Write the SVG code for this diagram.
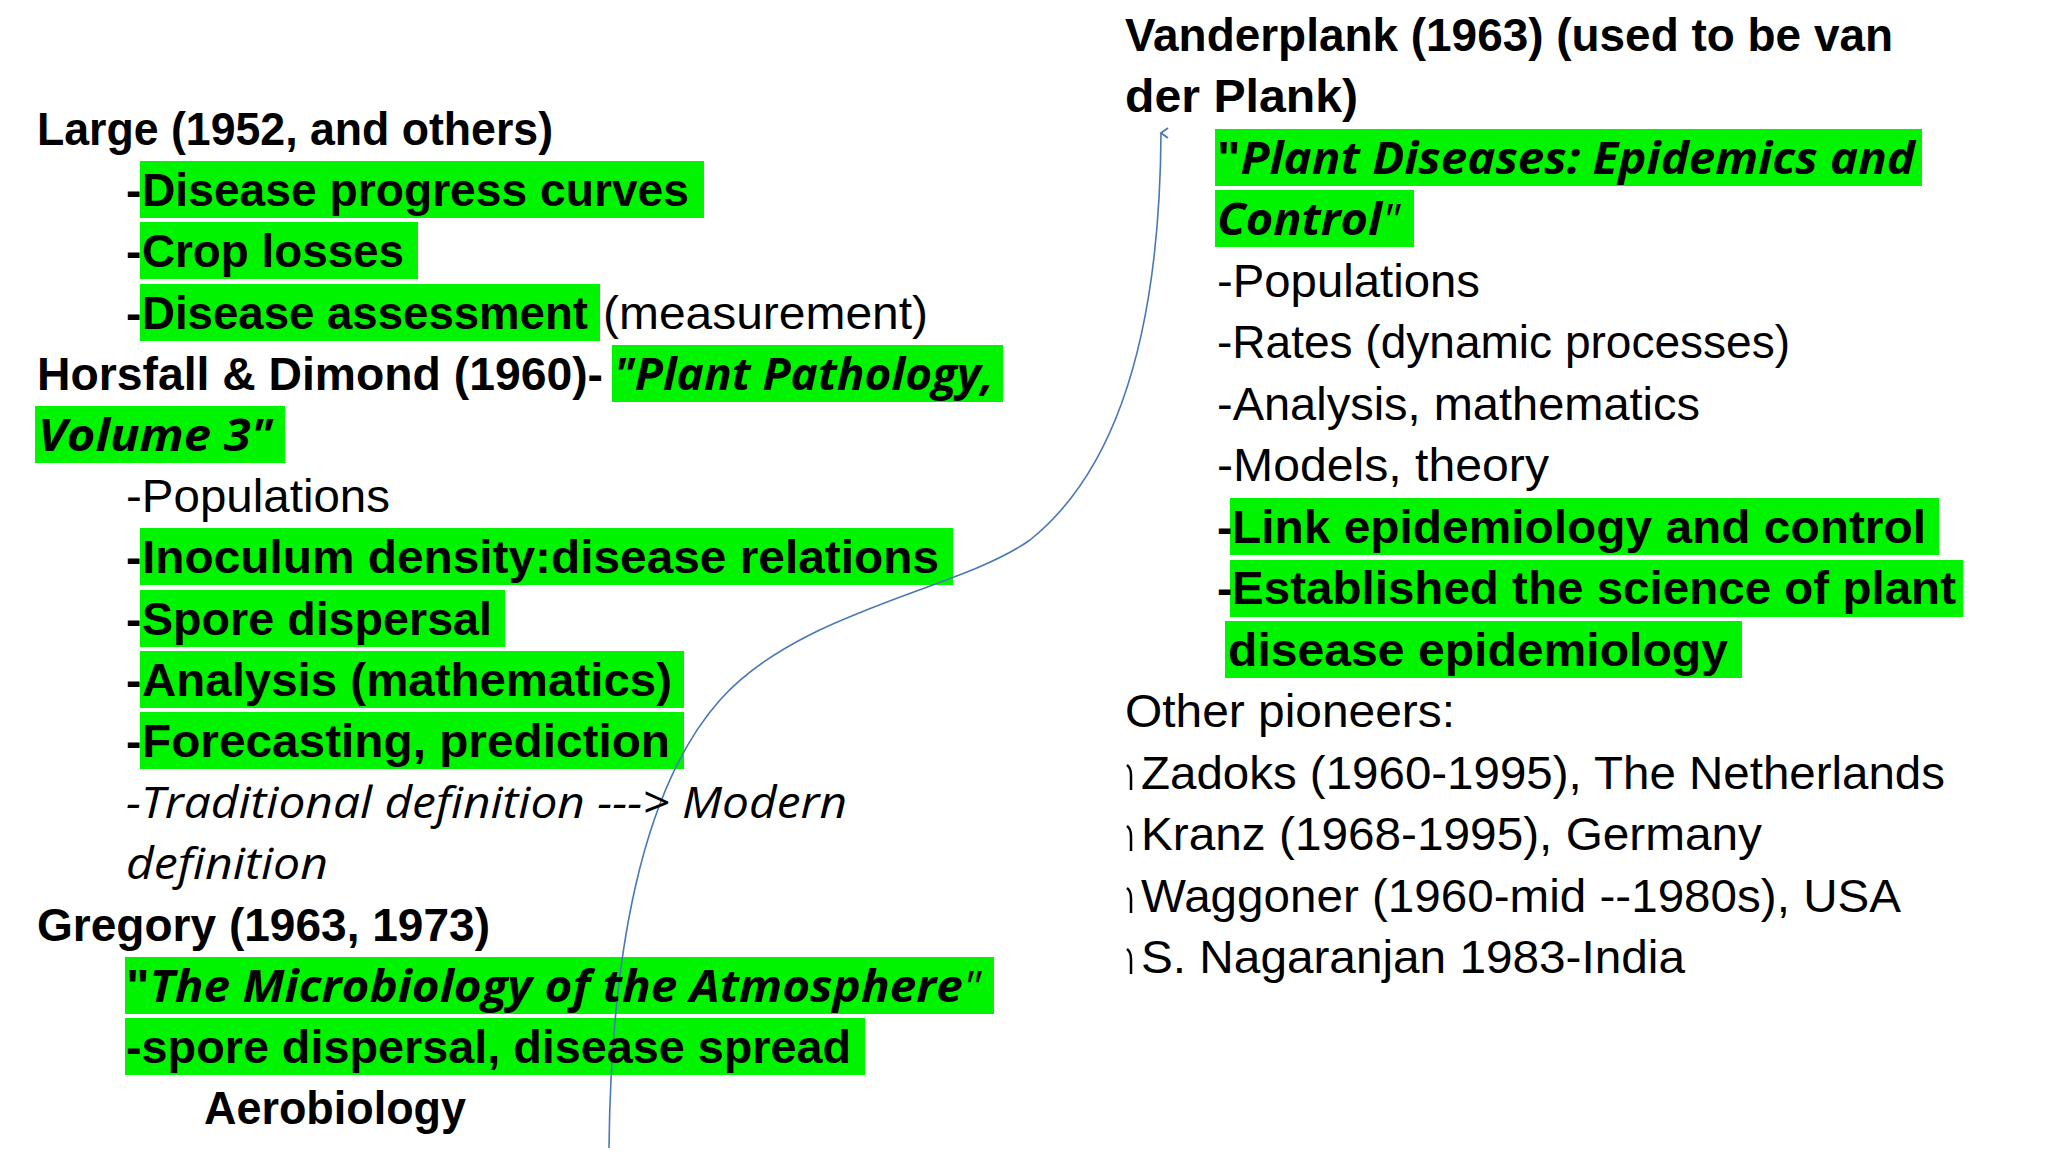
<svg xmlns="http://www.w3.org/2000/svg" width="2048" height="1152" viewBox="0 0 2048 1152">
<style>
text{font-family:"Liberation Sans",Arial,sans-serif;font-size:46px;fill:#000}
.b{font-weight:bold}
.i{font-family:"Open Sans","Liberation Sans",sans-serif;font-style:italic;font-size:44px}
.ib{font-family:"Open Sans","Liberation Sans",sans-serif;font-style:italic;font-weight:bold;font-size:44px}
.g{fill:#00f400}
.c{fill:none;stroke:#4a78b5;stroke-width:1.6}
</style>
<defs>
<marker id="ah" viewBox="0 0 12 12" refX="6" refY="2" markerWidth="12" markerHeight="12" markerUnits="userSpaceOnUse" orient="auto-start-reverse">
<path d="M1 9 L6 2 L11 9" fill="none" stroke="#4a78b5" stroke-width="1.8"/>
</marker>
</defs>
<rect width="2048" height="1152" fill="#fff"/>
<g id="highlights">
<rect class="g" x="140" y="161" width="564" height="57"/>
<rect class="g" x="140" y="222" width="278" height="57"/>
<rect class="g" x="140" y="284" width="460" height="57"/>
<rect class="g" x="612" y="345" width="391" height="57"/>
<rect class="g" x="35" y="406" width="250" height="57"/>
<rect class="g" x="140" y="528" width="813" height="57"/>
<rect class="g" x="140" y="590" width="365" height="57"/>
<rect class="g" x="140" y="651" width="544" height="57"/>
<rect class="g" x="140" y="712" width="544" height="57"/>
<rect class="g" x="125" y="957" width="869" height="57"/>
<rect class="g" x="125" y="1018" width="740" height="57"/>
<rect class="g" x="1215" y="129" width="707" height="57"/>
<rect class="g" x="1215" y="190" width="199" height="57"/>
<rect class="g" x="1230" y="498" width="709" height="57"/>
<rect class="g" x="1230" y="560" width="733" height="57"/>
<rect class="g" x="1225" y="621" width="517" height="57"/>
</g>
<g id="connectors">
<path class="c" d="M609 1148 C611 960 640 790 720 700 C800 610 960 590 1030 540 C1130 460 1160 300 1161 133" marker-end="url(#ah)"/>
</g>
<g id="left">
<text class="b" x="37" y="145" textLength="516" lengthAdjust="spacingAndGlyphs">Large (1952, and others)</text>
<text class="b" x="126" y="206">-</text><text class="b" x="142" y="206" textLength="547" lengthAdjust="spacingAndGlyphs">Disease progress curves</text>
<text class="b" x="126" y="267">-</text><text class="b" x="142" y="267" textLength="262" lengthAdjust="spacingAndGlyphs">Crop losses</text>
<text class="b" x="126" y="329">-</text><text class="b" x="142" y="329" textLength="446" lengthAdjust="spacingAndGlyphs">Disease assessment</text>
<text x="603" y="329" textLength="325" lengthAdjust="spacingAndGlyphs">(measurement)</text>
<text class="b" x="37" y="390" textLength="566" lengthAdjust="spacingAndGlyphs">Horsfall &amp; Dimond (1960)-</text>
<text class="ib" x="614" y="390" textLength="380" lengthAdjust="spacingAndGlyphs">"Plant Pathology,</text>
<text class="ib" x="38" y="451" textLength="235" lengthAdjust="spacingAndGlyphs">Volume  3"</text>
<text x="126" y="512" textLength="264" lengthAdjust="spacingAndGlyphs">-Populations</text>
<text class="b" x="126" y="573">-</text><text class="b" x="142" y="573" textLength="797" lengthAdjust="spacingAndGlyphs">Inoculum density:disease relations</text>
<text class="b" x="126" y="635">-</text><text class="b" x="142" y="635" textLength="350" lengthAdjust="spacingAndGlyphs">Spore dispersal</text>
<text class="b" x="126" y="696">-</text><text class="b" x="142" y="696" textLength="530" lengthAdjust="spacingAndGlyphs">Analysis (mathematics)</text>
<text class="b" x="126" y="757">-</text><text class="b" x="142" y="757" textLength="528" lengthAdjust="spacingAndGlyphs">Forecasting, prediction</text>
<text class="i" x="126" y="818" textLength="721" lengthAdjust="spacingAndGlyphs">-Traditional definition ---&gt; Modern</text>
<text class="i" x="126" y="879" textLength="202" lengthAdjust="spacingAndGlyphs">definition</text>
<text class="b" x="37" y="941" textLength="453" lengthAdjust="spacingAndGlyphs">Gregory (1963, 1973)</text>
<text x="126" y="1002" textLength="855" lengthAdjust="spacingAndGlyphs"><tspan class="b">"</tspan><tspan class="ib">The Microbiology of the Atmosphere</tspan><tspan class="i">"</tspan></text>
<text class="b" x="126" y="1063" textLength="725" lengthAdjust="spacingAndGlyphs">-spore dispersal, disease spread</text>
<text class="b" x="204" y="1124" textLength="262" lengthAdjust="spacingAndGlyphs">Aerobiology</text>
</g>
<g id="right">
<text class="b" x="1125" y="51" textLength="768" lengthAdjust="spacingAndGlyphs">Vanderplank (1963) (used to be van</text>
<text class="b" x="1125" y="112" textLength="233" lengthAdjust="spacingAndGlyphs">der  Plank)</text>
<text x="1217" y="174" textLength="698" lengthAdjust="spacingAndGlyphs"><tspan class="b">"</tspan><tspan class="ib">Plant Diseases: Epidemics and</tspan></text>
<text x="1217" y="235" textLength="183" lengthAdjust="spacingAndGlyphs"><tspan class="ib">Control</tspan><tspan class="i">"</tspan></text>
<text x="1217" y="297" textLength="263" lengthAdjust="spacingAndGlyphs">-Populations</text>
<text x="1217" y="358" textLength="573" lengthAdjust="spacingAndGlyphs">-Rates (dynamic processes)</text>
<text x="1217" y="420" textLength="483" lengthAdjust="spacingAndGlyphs">-Analysis, mathematics</text>
<text x="1217" y="481" textLength="332" lengthAdjust="spacingAndGlyphs">-Models, theory</text>
<text class="b" x="1217" y="543">-</text><text class="b" x="1232" y="543" textLength="694" lengthAdjust="spacingAndGlyphs">Link epidemiology and control</text>
<text class="b" x="1217" y="604">-</text><text class="b" x="1232" y="604" textLength="724" lengthAdjust="spacingAndGlyphs">Established the science of plant</text>
<text class="b" x="1228" y="666" textLength="500" lengthAdjust="spacingAndGlyphs">disease  epidemiology</text>
<text x="1125" y="727" textLength="330" lengthAdjust="spacingAndGlyphs">Other pioneers:</text>
<g fill="none" stroke="#000" stroke-width="2.5">
<path d="M1127 765 Q1131 768 1131 775 L1131 790"/>
<path d="M1127 826 Q1131 829 1131 836 L1131 851"/>
<path d="M1127 888 Q1131 891 1131 898 L1131 913"/>
<path d="M1127 949 Q1131 952 1131 959 L1131 974"/>
</g>
<text x="1141" y="789" textLength="804" lengthAdjust="spacingAndGlyphs">Zadoks (1960-1995), The Netherlands</text>
<text x="1141" y="850" textLength="621" lengthAdjust="spacingAndGlyphs">Kranz (1968-1995), Germany</text>
<text x="1141" y="912" textLength="760" lengthAdjust="spacingAndGlyphs">Waggoner (1960-mid --1980s), USA</text>
<text x="1141" y="973" textLength="544" lengthAdjust="spacingAndGlyphs">S.  Nagaranjan 1983-India</text>
</g>
</svg>
